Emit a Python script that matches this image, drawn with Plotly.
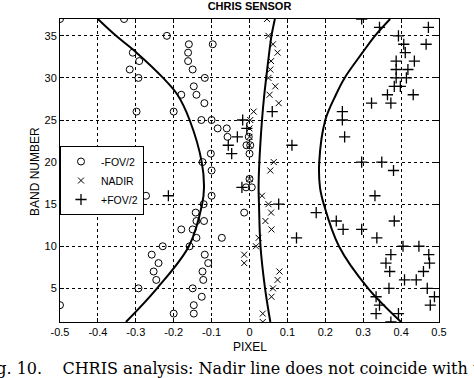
import plotly.graph_objects as go

# -FOV/2 (circles)
fovm_x = [-0.5, -0.331, -0.218, -0.16, -0.097, -0.308, -0.162, -0.291, -0.162, -0.316, -0.15,
          -0.293, -0.118, -0.147, -0.18, -0.14, -0.119, -0.298, -0.2, -0.127, -0.1,
          -0.084, -0.06, -0.058, -0.002, -0.008, 0.002, -0.102, 0.0, -0.124, -0.1, 0.0,
          -0.009, 0.006, -0.273, -0.1, -0.121, -0.142, -0.014, -0.14, -0.12, -0.18, -0.15,
          -0.14, -0.073, -0.229, -0.158, -0.258, -0.118, -0.24, -0.109, -0.253, -0.124,
          -0.246, -0.122, -0.293, -0.15, -0.126, -0.5, -0.147, -0.2, -0.147]
fovm_y = [37, 37, 35, 34, 34, 33, 33, 32, 32, 31, 31,
          30, 30, 29, 28, 28, 27, 26, 26, 25, 25,
          24, 24, 23, 23, 22, 22, 21, 21, 20, 19, 18,
          17, 17, 16, 16, 15, 14, 14, 13, 13, 12, 12,
          11, 11, 10, 10, 9, 9, 8, 8, 7, 7,
          6, 6, 5, 5, 4, 3, 3, 2, 2]

# NADIR (crosses)
nadir_x = [0.046, 0.05, 0.062, 0.074, 0.057, 0.055, 0.05, 0.068, 0.053, 0.077, 0.011,
           0.002, 0.0, 0.0, 0.0, 0.064, 0.055, 0.0, 0.033, 0.05, 0.057, 0.042, 0.058,
           0.024, 0.017, -0.014, -0.014, 0.079, 0.074, 0.062, 0.058, 0.035, 0.035]
nadir_y = [37, 35, 34, 33, 32, 31, 30, 29, 28, 27, 26,
           25, 24, 23, 22, 20, 19, 18, 16, 15, 14, 13, 12,
           11, 10, 9, 8, 7, 6, 5, 4, 2, 1]

# +FOV/2 (plus)
fovp_x = [0.296, 0.343, 0.472, 0.393, 0.407, 0.466, 0.411, 0.387, 0.435, 0.387, 0.418,
          0.387, 0.414, 0.382, 0.398, 0.364, 0.432, 0.322, 0.373, 0.06, 0.245,
          -0.018, 0.245, -0.007, -0.032, 0.251, -0.056, 0.112, -0.047, 0.296, 0.349,
          0.38, -0.02, -0.214, 0.331, 0.077, 0.176, 0.229, 0.382, 0.247, 0.296,
          0.124, 0.336, 0.405, 0.447, 0.373, 0.473, 0.36, 0.475, 0.37, 0.459,
          0.409, 0.44, 0.368, 0.469, 0.334, 0.488, 0.343, 0.477, 0.334, 0.393, 0.373]
fovp_y = [37, 36, 36, 35, 34, 34, 33, 32, 32, 31, 31,
          30, 30, 29, 29, 28, 28, 27, 27, 26, 26,
          25, 25, 24, 23, 23, 22, 22, 21, 20, 20,
          19, 17, 16, 16, 15, 14, 13, 13, 12, 12,
          11, 11, 10, 10, 9, 9, 8, 8, 7, 7,
          6, 6, 5, 5, 4, 4, 3, 3, 2, 2, 1]

# fitted curves
curve_y = [1, 5, 10, 15, 17, 20, 25, 28, 30, 33, 35, 37]
left_x = [-0.326, -0.244, -0.16, -0.125, -0.12, -0.126, -0.158, -0.19, -0.228, -0.298, -0.352, -0.4]
mid_x = [0.055, 0.041, 0.029, 0.025, 0.024, 0.026, 0.033, 0.039, 0.044, 0.052, 0.058, 0.067]
right_x = [0.4, 0.313, 0.236, 0.196, 0.186, 0.184, 0.2, 0.228, 0.251, 0.298, 0.331, 0.371]

x_ticks = [-0.5, -0.4, -0.3, -0.2, -0.1, 0, 0.1, 0.2, 0.3, 0.4, 0.5]
x_tick_text = ["-0.5", "-0.4", "-0.3", "-0.2", "-0.1", "0", "0.1", "0.2", "0.3", "0.4", "0.5"]
y_ticks = [5, 10, 15, 20, 25, 30, 35]

fig = go.Figure()
for cx in (left_x, mid_x, right_x):
    fig.add_trace(go.Scatter(x=cx, y=curve_y, mode="lines", line=dict(color="black", width=2, shape="spline"),
                             showlegend=False, hoverinfo="skip"))

fig.add_trace(go.Scatter(x=fovm_x, y=fovm_y, mode="markers", name="-FOV/2",
                         marker=dict(symbol="circle-open", size=7, color="black", line=dict(width=1, color="black"))))
fig.add_trace(go.Scatter(x=nadir_x, y=nadir_y, mode="markers", name="NADIR",
                         marker=dict(symbol="x-thin-open", size=6, color="black", line=dict(width=1, color="black"))))
fig.add_trace(go.Scatter(x=fovp_x, y=fovp_y, mode="markers", name="+FOV/2",
                         marker=dict(symbol="cross-thin-open", size=8, color="black", line=dict(width=1.3, color="black"))))

W, H = 474, 378
L, R, T, B = 60, 35, 19, 56
pw, ph = W - L - R, H - T - B

axis_common = dict(showline=True, linecolor="black", linewidth=1, mirror="ticks", ticks="inside", ticklen=4,
                   tickcolor="black", showgrid=True, gridcolor="black", griddash="dot", gridwidth=1,
                   zeroline=False, tickfont=dict(family="Liberation Sans, Arial", size=11, color="black"))

fig.update_xaxes(range=[-0.5, 0.5], tickvals=x_ticks, ticktext=x_tick_text, **axis_common)
fig.update_yaxes(range=[1, 37], tickvals=y_ticks, **axis_common)

fig.update_layout(
    width=W, height=H,
    margin=dict(l=L, r=R, t=T, b=B),
    paper_bgcolor="white", plot_bgcolor="white",
    title=dict(text="<b>CHRIS SENSOR</b>", x=(L + pw / 2) / W, xanchor="center", y=1 - 6 / H, yanchor="middle",
               font=dict(family="Liberation Sans, Arial", size=11, color="black")),
    legend=dict(x=0, y=(T + ph - 146) / ph, xanchor="left", yanchor="top", bgcolor="white",
                bordercolor="black", borderwidth=1, font=dict(family="Liberation Sans, Arial", size=10.5, color="black"),
                itemwidth=30, tracegroupgap=0),
    showlegend=True,
)

fig.add_annotation(text="PIXEL", xref="paper", yref="paper", x=0.5, y=-(347 - (T + ph)) / ph,
                   showarrow=False, font=dict(family="Liberation Sans, Arial", size=12, color="black"),
                   xanchor="center", yanchor="middle")
fig.add_annotation(text="BAND NUMBER", xref="paper", yref="paper", x=(35 - L) / pw, y=(T + ph - 172) / ph,
                   showarrow=False, textangle=-90, font=dict(family="Liberation Sans, Arial", size=12, color="black"),
                   xanchor="center", yanchor="middle")
fig.add_annotation(text="Fig. 10.&nbsp;&nbsp;&nbsp; CHRIS analysis: Nadir line does not coincide with the",
                   xref="paper", yref="paper", x=(-22 - L) / pw, y=-(368 - (T + ph)) / ph,
                   showarrow=False, font=dict(family="DejaVu Serif", size=16, color="black"),
                   xanchor="left", yanchor="middle")

fig.write_html("out.html", config={"displayModeBar": False},
               post_script="document.body.style.margin='0';document.body.style.overflow='hidden';")
